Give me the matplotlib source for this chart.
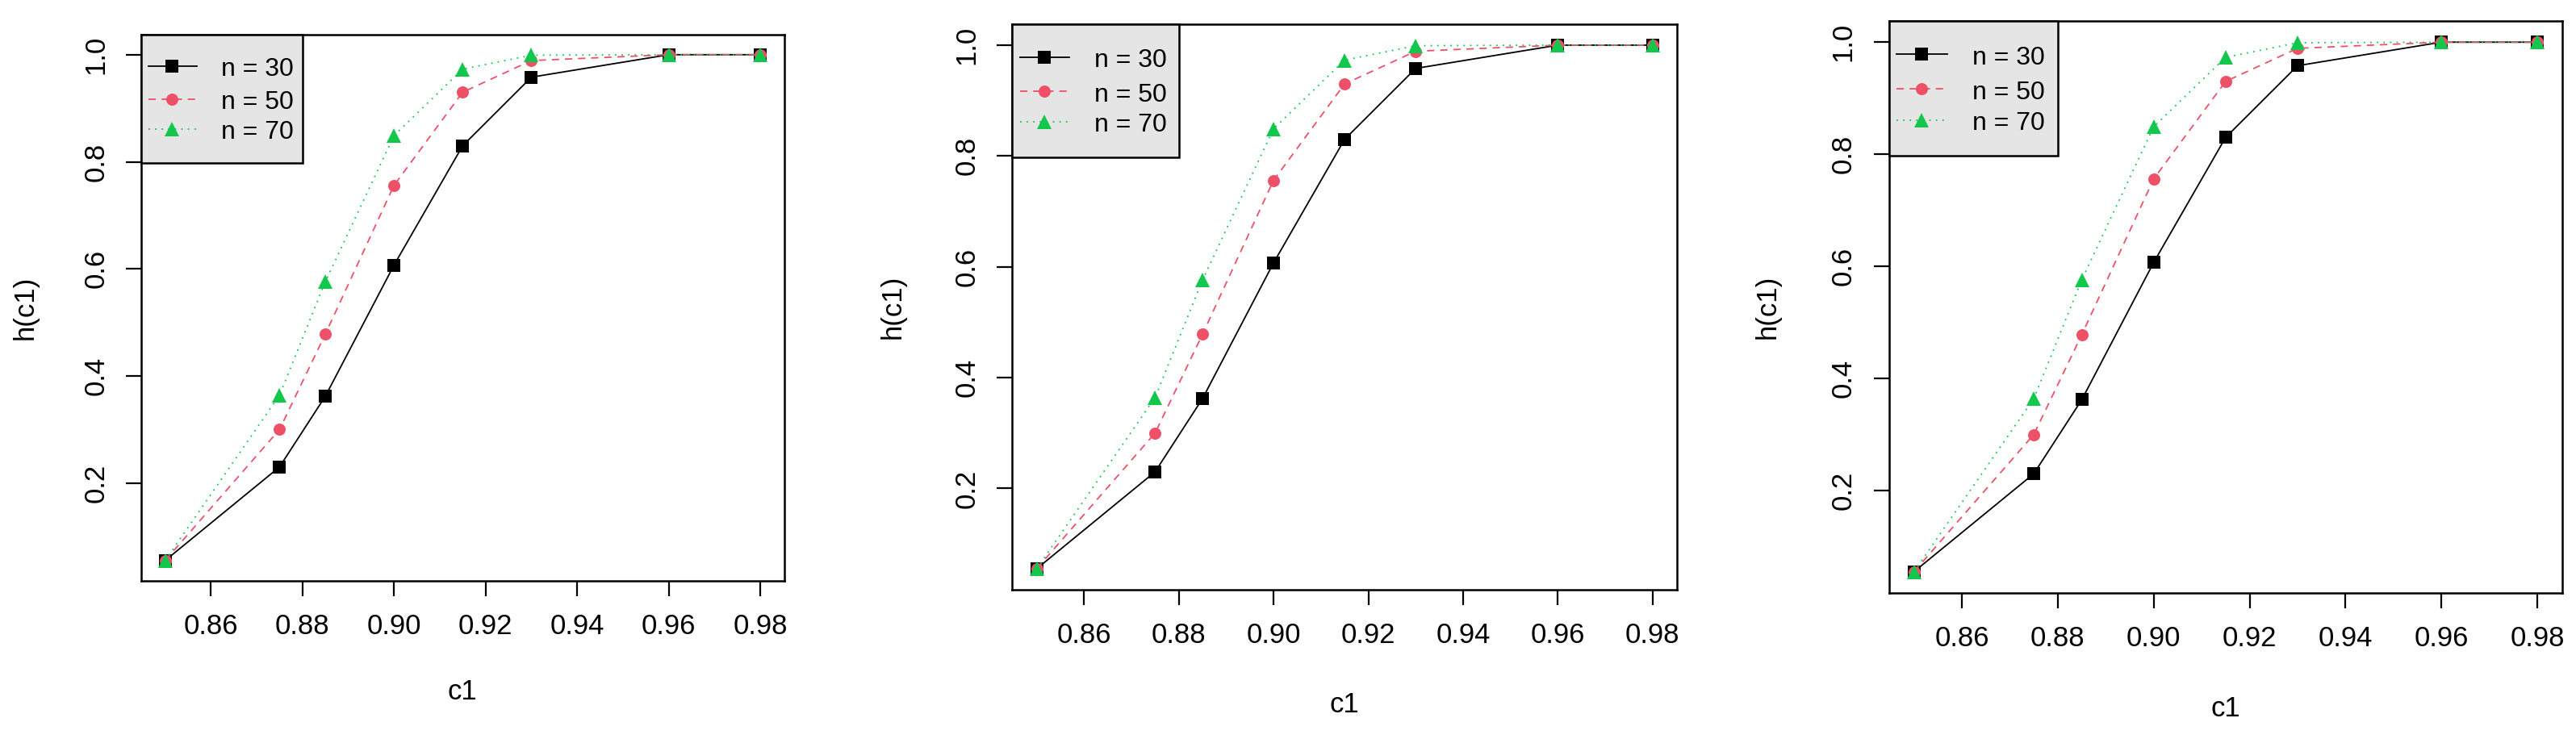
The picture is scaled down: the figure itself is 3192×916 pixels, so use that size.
import matplotlib
matplotlib.use("Agg")
import matplotlib.pyplot as plt
from matplotlib.patches import Rectangle
from matplotlib.lines import Line2D

plt.rcParams['font.family'] = ['Liberation Sans', 'DejaVu Sans']

# ---- data ----
c1 = [0.85, 0.875, 0.885, 0.90, 0.915, 0.93, 0.96, 0.98]
h_n30 = [0.055, 0.230, 0.362, 0.607, 0.830, 0.958, 1.0, 1.0]
h_n50 = [0.055, 0.300, 0.478, 0.756, 0.930, 0.989, 1.0, 1.0]
h_n70 = [0.055, 0.364, 0.576, 0.849, 0.973, 0.999, 1.0, 1.0]
series_labels = ["n = 30", "n = 50", "n = 70"]
xticks = [0.86, 0.88, 0.90, 0.92, 0.94, 0.96, 0.98]
xtick_labels = ["0.86", "0.88", "0.90", "0.92", "0.94", "0.96", "0.98"]
yticks = [0.2, 0.4, 0.6, 0.8, 1.0]
ytick_labels = ["0.2", "0.4", "0.6", "0.8", "1.0"]
xlabel = "c1"
ylabel = "h(c1)"

series = [h_n30, h_n50, h_n70]
colors = ["#000000", "#EE5068", "#12C74C"]
markers = ["s", "o", "^"]
msizes = [12.0, 10.8, 13.0]
dashes = [None, (5, 4), (1, 3.5)]
lw = 1.3

fig = plt.figure(figsize=(31.92, 9.16), dpi=100)
positions = [
    [175 / 3192, (916 - 720) / 916, 796.7 / 3192, 677.3 / 916],
    [1254 / 3192, (916 - 731) / 916, 824.3 / 3192, 701 / 916],
    [2340.7 / 3192, (916 - 735) / 916, 834.3 / 3192, 709 / 916],
]

xr = max(c1) - min(c1)
yall = h_n30 + h_n50 + h_n70
yr = max(yall) - min(yall)

for pos in positions:
    ax = fig.add_axes(pos)
    for ys, col, mk, ms, ds in zip(series, colors, markers, msizes, dashes):
        kw = dict(color=col, marker=mk, markersize=ms, lw=lw,
                  markeredgewidth=0, clip_on=False, zorder=3)
        if ds is None:
            ax.plot(c1, ys, ls='-', **kw)
        else:
            ax.plot(c1, ys, ls='--', dashes=ds, **kw)
    ax.set_xlim(min(c1) - 0.04 * xr, max(c1) + 0.04 * xr)
    ax.set_ylim(min(yall) - 0.04 * yr, max(yall) + 0.04 * yr)
    ax.set_xticks(xticks)
    ax.set_xticklabels(xtick_labels)
    ax.set_yticks(yticks)
    ax.set_yticklabels(ytick_labels, rotation=90, va='center')
    ax.tick_params(axis='both', direction='out', length=13.7, width=1.6,
                   labelsize=25, pad=15, colors='black')
    for sp in ax.spines.values():
        sp.set_linewidth(1.8)
    ax.set_xlabel(xlabel, fontsize=25)
    ax.set_ylabel(ylabel, fontsize=25)
    ax.xaxis.set_label_coords(0.5, -0.203)
    ax.xaxis.label.set_va('center')
    ax.yaxis.set_label_coords(-0.18, 0.5)
    ax.yaxis.label.set_va('center')

    # legend box (R style)
    ax.add_patch(Rectangle((0, 0.765), 0.251, 0.235, transform=ax.transAxes,
                           facecolor='#E5E5E5', edgecolor='black', lw=1.8,
                           zorder=5, clip_on=False))
    rows = [0.9415, 0.881, 0.827]
    for yy, lab, col, mk, ms, ds in zip(rows, series_labels, colors, markers, msizes, dashes):
        ln = Line2D([0.0117, 0.0866], [yy, yy], transform=ax.transAxes,
                    color=col, lw=lw, zorder=6, ls='-' if ds is None else '--')
        if ds is not None:
            ln.set_dashes(ds)
        ax.add_line(ln)
        ax.add_line(Line2D([0.048], [yy], transform=ax.transAxes, color=col,
                           marker=mk, markersize=ms, markeredgewidth=0,
                           ls='none', zorder=7))
        ax.text(0.124, yy - 0.006, lab, transform=ax.transAxes, fontsize=23,
                va='center', ha='left', zorder=7)

fig.savefig("out.png", dpi=100)
